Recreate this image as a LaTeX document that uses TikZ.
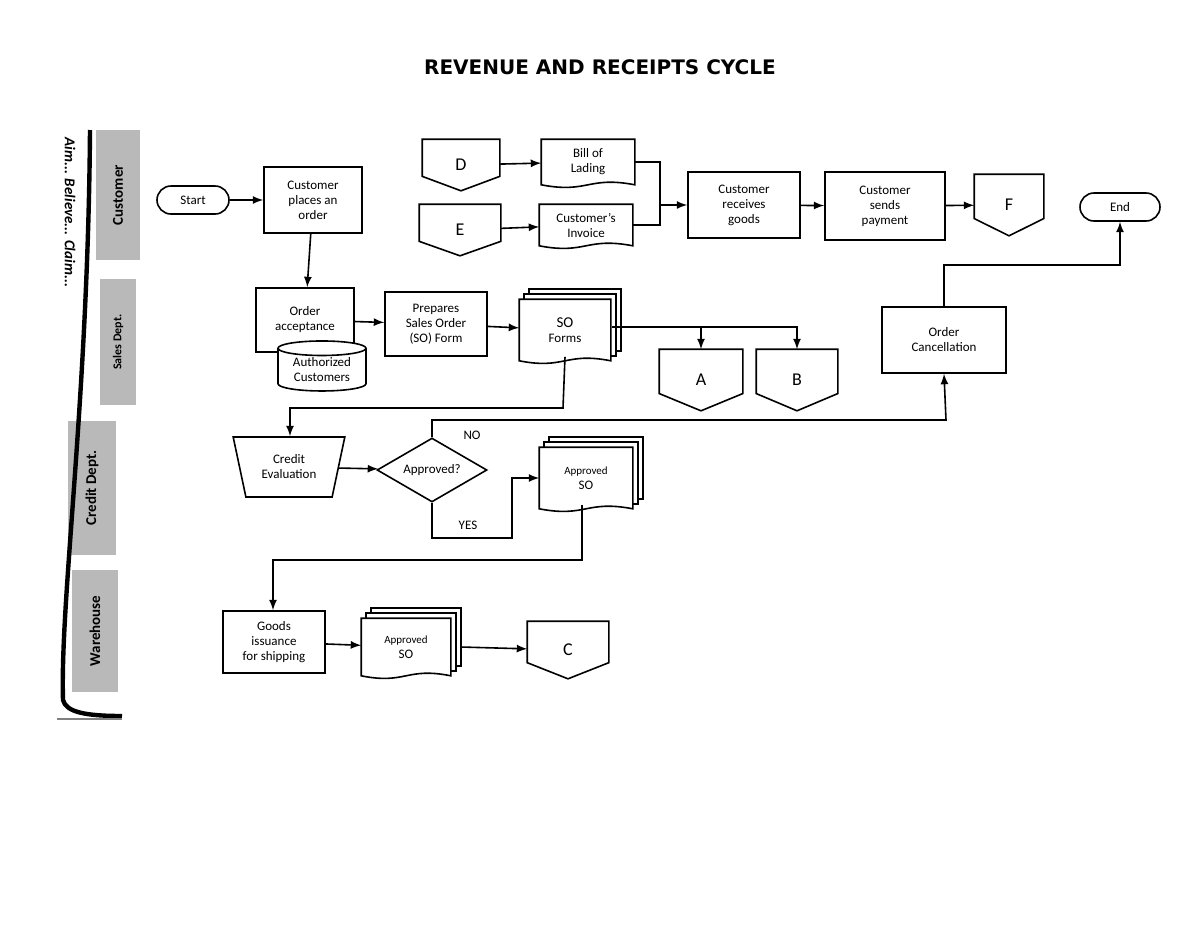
\documentclass[tikz,border=0pt]{standalone}
\usepackage{fontspec}
\setmainfont{Carlito}
\newfontfamily\titlefont{DejaVu Sans}
\usetikzlibrary{calc, positioning, shapes.geometric}

% document-type outlines drawn round a named node
\newcommand{\docoutline}[1]{%
  \draw[fill=white] (#1.south west) -- (#1.north west) -- (#1.north east) -- (#1.south east)
    .. controls ($(#1.south)+(0,-9)$) and ($(#1.south)+(0,9)$) .. (#1.south west) -- cycle;}
\newcommand{\multidoc}[1]{%
  \foreach \d in {10,5} {
    \draw[fill=white] ($(#1.south west)+(\d,-\d)$) rectangle ($(#1.north east)+(\d,-\d)$);}
  \docoutline{#1}}
\newcommand{\offpage}[1]{%
  \draw (#1.north west) -- (#1.north east) -- ($(#1.north east)!0.72!(#1.south east)$)
    -- (#1.south) -- ($(#1.north west)!0.72!(#1.south west)$) -- cycle;}

\begin{document}
\begin{tikzpicture}[x=0.5pt, y=-0.5pt, >=latex, thick,
    every node/.style={font=\fontsize{6.5}{7.5}\selectfont, align=center},
    box/.style={draw, minimum width=#1, inner sep=1pt},
    box/.default=50pt,
    term/.style={draw, rounded corners=7pt, minimum width=36pt, minimum height=14pt},
    plain/.style={minimum width=#1, inner sep=0pt},
    lane/.style={fill=gray!55, rotate=90, font=\bfseries\fontsize{7.5}{9}\selectfont, inner sep=0pt},
    flow/.style={->}]

    \useasboundingbox (0,0) rectangle (1200,927);

    % Title
    \node[font=\titlefont\bfseries\fontsize{10}{12}\selectfont] (title) at (600,67) {REVENUE AND RECEIPTS CYCLE};

    % Lanes
    \node[lane, minimum width=65pt, minimum height=22pt] (laneC) at (118,195) {Customer};
    \node[lane, minimum width=63pt, minimum height=18pt] (laneS) at (118,342) {\fontsize{6}{7}\selectfont Sales Dept.};
    \node[lane, minimum width=67pt, minimum height=24pt] (laneCr) at (92,488) {Credit Dept.};
    \node[lane, minimum width=61pt, minimum height=23pt] (laneW) at (95,631) {Warehouse};
    \draw[line width=2.2pt] (90,130) .. controls (88,400) and (60,600) .. (63,700)
        .. controls (66,712) and (85,716) .. (122,716);
    \draw[line width=1pt, gray] (57,719) -- (122,719);
    \node[rotate=-90, font=\bfseries\itshape\fontsize{7.5}{9}\selectfont, anchor=west] (motto) at (70,130) {Aim... Believe... Claim...};

    % Customer lane
    \node[term] (start) at (193,200) {Start};
    \node[box, minimum height=33pt, minimum width=49pt] (places) at (313,200) {Customer\\places an\\order};
    \node[plain=38pt, minimum height=25pt] (D) at (461,165) {\fontsize{9}{10}\selectfont D};
    \node[plain=40pt, minimum height=25pt] (E) at (460,230) {\fontsize{9}{10}\selectfont E};
    \node[plain=46pt, minimum height=22pt] (bill) at (588,162) {};
    \node[plain=46pt, minimum height=20pt] (invoice) at (586,225) {};
    \node[box, minimum height=33pt, minimum width=56pt] (receives) at (744,205) {Customer\\receives\\goods};
    \node[box, minimum height=34pt, minimum width=60pt] (sends) at (885,206) {Customer\\sends\\payment};
    \node[plain=34pt, minimum height=30pt] (F) at (1009,205) {\fontsize{9}{10}\selectfont F};
    \node[term, minimum width=40pt] (end) at (1120,207) {End};

    % Sales lane
    \node[box, minimum height=32pt, minimum width=49pt] (accept) at (305,320) {Order\\acceptance};
    \node[draw, fill=white, cylinder, shape border rotate=90, aspect=0.25,
          minimum width=44pt, minimum height=25pt, inner sep=0pt] (authcust) at (322,370) {Authorized\\Customers};
    \node[box, minimum height=32pt, minimum width=51pt] (prepares) at (436,324) {Prepares\\Sales Order\\(SO) Form};
    \node[plain=45pt, minimum height=30pt] (soforms) at (565,330) {};
    \node[plain=41pt, minimum height=30pt] (A) at (701,380) {\fontsize{9}{10}\selectfont A};
    \node[plain=40pt, minimum height=30pt] (B) at (797,380) {\fontsize{9}{10}\selectfont B};
    \node[box, minimum height=33pt, minimum width=62pt] (cancel) at (944,340) {Order\\Cancellation};

    % Credit lane
    \node[draw, trapezium, shape border rotate=180, trapezium stretches=true,
          minimum width=56pt, minimum height=30pt, trapezium left angle=75, trapezium right angle=75] (credit) at (289,467) {Credit\\Evaluation};
    \node[draw, diamond, aspect=1.7, minimum width=55pt, minimum height=32pt, inner sep=0pt] (approved) at (432,470) {Approved?};
    \node[plain=46pt, minimum height=30pt] (apso) at (586,478) {};

    % Warehouse lane
    \node[box, minimum height=31pt, minimum width=51pt] (goods) at (274,642) {Goods\\issuance\\for shipping};
    \node[plain=44pt, minimum height=28pt] (apsoW) at (406,647) {};
    \node[plain=40pt, minimum height=28pt] (C) at (568,650) {\fontsize{9}{10}\selectfont C};

    % Outlines
    \foreach \n in {D, E, F, A, B, C} {\offpage{\n}}
    \docoutline{bill}
    \docoutline{invoice}
    \multidoc{soforms}
    \multidoc{apso}
    \multidoc{apsoW}
    \node at (bill) {Bill of\\Lading};
    \node at (invoice) {Customer's\\Invoice};
    \node at (soforms) {\fontsize{7.5}{9}\selectfont SO\\Forms};
    \node at (apso) {\fontsize{5.5}{6.5}\selectfont Approved\\SO};
    \node at (apsoW) {\fontsize{5.5}{6.5}\selectfont Approved\\SO};

    % Junction points
    \coordinate (sofork) at (612,327);
    \coordinate (sodown) at (563,408);
    \coordinate (crtop) at (290,408);
    \coordinate (noturn) at (946,420);
    \coordinate (yesturn) at (512,538);
    \coordinate (apdown) at (582,560);
    \coordinate (gdtop) at (273,560);
    \coordinate (merge) at (660,205);
    \coordinate (endturn) at (1120,265);

    % Connectors
    \draw[flow] (start) -- (places);
    \draw[flow] (places) -- (accept);
    \draw[flow] (accept) -- (prepares);
    \draw[flow] (prepares) -- (soforms);
    \draw[flow] (sofork) -| (A.north);
    \draw[flow] (sofork) -| (B.north);
    \draw[flow] ($(soforms.south)+(0,-4)$) -- (sodown) -- (crtop) -- (credit.north -| crtop);
    \draw[flow] (credit) -- (approved);
    \draw[flow] (approved.north) |- (noturn) -- (cancel.south);
    \node (no) at (472,435) {NO};
    \draw[flow] (approved.south) |- (yesturn) |- (apso.west);
    \node (yes) at (468,525) {YES};
    \draw[flow] ($(apso.south)+(-4,-4)$) -- (apdown) -- (gdtop) -- (goods.north -| gdtop);
    \draw[flow] (goods) -- (apsoW);
    \draw[flow] ($(apsoW.east)+(10,0)$) -- (C);
    \draw[flow] (D) -- (bill);
    \draw[flow] (E) -- (invoice);
    \draw (bill.east) -| (merge);
    \draw (invoice.east) -| (merge);
    \draw[flow] (merge) -- (receives.west);
    \draw[flow] (receives) -- (sends);
    \draw[flow] (sends) -- (F);
    \draw[flow] (cancel.north) |- (endturn) -- (end.south);
\end{tikzpicture}
\end{document}
